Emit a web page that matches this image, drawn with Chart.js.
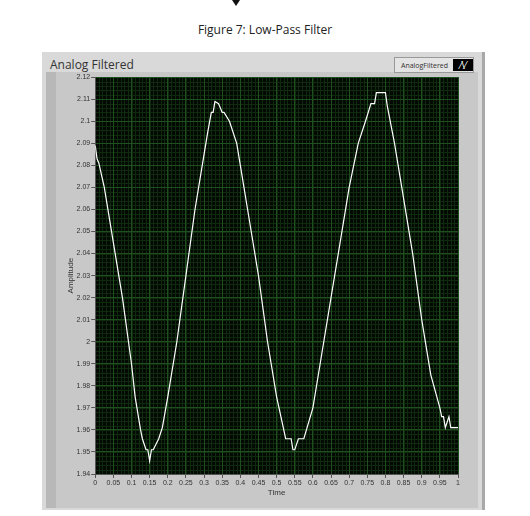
<!DOCTYPE html>
<html>
<head>
<meta charset="utf-8">
<script src="https://cdn.jsdelivr.net/npm/chart.js@4/dist/chart.umd.min.js"></script>
<style>
  body { margin: 0; width: 530px; height: 516px; background: #fff; position: relative; font-family: "Open Sans", "Noto Sans", sans-serif; overflow: hidden; }
  #cap { position: absolute; top: 21px; width: 530px; text-align: center; font-size: 12px; color: #222; }
  #arrow { position: absolute; left: 232px; top: 0; width: 0; height: 0; border-left: 4px solid transparent; border-right: 4px solid transparent; border-top: 6px solid #111; }
  #panel { position: absolute; left: 42px; top: 52px; width: 440px; height: 458px; background: #d9d9d9; border-right: 3px solid #a8a8a8; }
  #head { position: absolute; left: 8px; top: 4px; font-size: 12px; color: #333; }
  #inner { position: absolute; left: 4px; top: 20px; width: 432px; height: 436px; background: #c8c8c8; border-left: 10px solid #b8b8b8; box-sizing: border-box; }
  #legend { position: absolute; right: 8px; top: 5px; height: 14px; background: #e4e4e4; border: 1px solid #999; font-size: 7px; color: #333; display: flex; align-items: center; padding-left: 6px; }
  #legend span { display: inline-block; width: 20px; height: 12px; background: #000; margin-left: 5px; color: #fff; font-size: 10px; line-height: 12px; text-align: center; }
  #wrap { position: absolute; left: 46px; top: 72px; width: 432px; height: 436px; }
</style>
</head>
<body>
<div id="arrow"></div>
<div id="cap">Figure 7: Low-Pass Filter</div>
<div id="panel">
  <div id="head">Analog Filtered</div>
  <div id="inner"></div>
  <div id="legend">AnalogFiltered<span>⁄\⁄</span></div>
</div>
<div id="wrap"><canvas id="c"></canvas></div>
<script>
const times = [0, 0.005, 0.01, 0.025, 0.05, 0.075, 0.1, 0.11, 0.125, 0.13, 0.14, 0.145, 0.15, 0.155, 0.16, 0.175, 0.185, 0.2, 0.225, 0.25, 0.275, 0.3, 0.31, 0.32, 0.325, 0.33, 0.34, 0.35, 0.355, 0.37, 0.39, 0.4, 0.425, 0.45, 0.475, 0.5, 0.525, 0.54, 0.545, 0.55, 0.56, 0.565, 0.575, 0.6, 0.625, 0.65, 0.675, 0.7, 0.725, 0.745, 0.76, 0.77, 0.775, 0.79, 0.8, 0.805, 0.825, 0.85, 0.875, 0.9, 0.925, 0.95, 0.955, 0.96, 0.965, 0.975, 0.98, 1.0];
const amplitude = [2.089, 2.083, 2.081, 2.07, 2.045, 2.02, 1.99, 1.975, 1.96, 1.956, 1.951, 1.951, 1.946, 1.951, 1.951, 1.956, 1.961, 1.975, 2.0, 2.03, 2.06, 2.085, 2.095, 2.104, 2.104, 2.109, 2.108, 2.104, 2.104, 2.1, 2.09, 2.08, 2.055, 2.03, 2.0, 1.975, 1.956, 1.956, 1.951, 1.951, 1.956, 1.956, 1.956, 1.97, 1.995, 2.02, 2.045, 2.07, 2.09, 2.1, 2.108, 2.108, 2.113, 2.113, 2.113, 2.107, 2.09, 2.065, 2.04, 2.01, 1.985, 1.97, 1.966, 1.966, 1.961, 1.966, 1.961, 1.961];
const xTicks = [0, 0.05, 0.1, 0.15, 0.2, 0.25, 0.3, 0.35, 0.4, 0.45, 0.5, 0.55, 0.6, 0.65, 0.7, 0.75, 0.8, 0.85, 0.9, 0.95, 1];

const plotBg = {
  id: 'plotBg',
  beforeDraw(chart) {
    const { ctx, chartArea: a, scales } = chart;
    ctx.save();
    ctx.fillStyle = '#030a03';
    ctx.fillRect(a.left, a.top, a.width, a.height);
    ctx.strokeStyle = '#0f2a0f';
    ctx.lineWidth = 1;
    for (let i = 0; i <= 100; i++) {
      const x = Math.round(scales.x.getPixelForValue(i / 100)) + 0.5;
      ctx.beginPath(); ctx.moveTo(x, a.top); ctx.lineTo(x, a.bottom); ctx.stroke();
    }
    for (let i = 0; i <= 90; i++) {
      const y = Math.round(scales.y.getPixelForValue(1.94 + i * 0.002)) + 0.5;
      ctx.beginPath(); ctx.moveTo(a.left, y); ctx.lineTo(a.right, y); ctx.stroke();
    }
    ctx.restore();
  }
};

new Chart(document.getElementById('c'), {
  type: 'line',
  data: {
    datasets: [{
      data: times.map((t, i) => ({ x: t, y: amplitude[i] })),
      borderColor: '#ffffff',
      borderWidth: 1.2,
      pointRadius: 0,
      tension: 0,
      fill: false
    }]
  },
  options: {
    responsive: true,
    maintainAspectRatio: false,
    animation: false,
    layout: { padding: { left: 20, right: 20, top: 3, bottom: 10 } },
    plugins: { legend: { display: false }, tooltip: { enabled: false } },
    scales: {
      x: {
        type: 'linear', min: 0, max: 1,
        afterBuildTicks: s => { s.ticks = xTicks.map(v => ({ value: v })); },
        grid: { color: '#1f4f1f', tickColor: '#555', tickLength: 4 },
        border: { color: '#555' },
        ticks: { color: '#333', font: { size: 7 }, autoSkip: false, maxRotation: 0, padding: 1, callback: v => String(+v.toFixed(2)) },
        title: { display: true, text: 'Time', color: '#333', font: { size: 8 }, padding: 0 }
      },
      y: {
        min: 1.94, max: 2.12,
        ticks: { stepSize: 0.01, color: '#333', font: { size: 7 }, padding: 1, callback: v => String(+v.toFixed(2)) },
        grid: { color: '#1f4f1f', tickColor: '#555', tickLength: 4 },
        border: { color: '#555' },
        title: { display: true, text: 'Amplitude', color: '#333', font: { size: 8 }, padding: 0 }
      }
    }
  },
  plugins: [plotBg]
});
</script>
</body>
</html>
